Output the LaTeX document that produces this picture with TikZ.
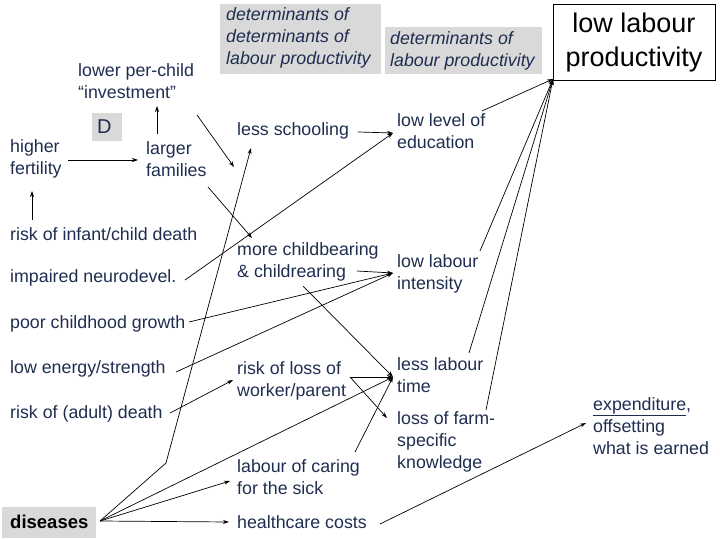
\documentclass[tikz,border=0pt]{standalone}
\usepackage{fontspec}
\setmainfont{Liberation Sans}
\usetikzlibrary{arrows.meta}
\definecolor{txt}{HTML}{1F2D50}
\definecolor{gbox}{HTML}{D9D9D9}
\begin{document}
\begin{tikzpicture}[x=1pt,y=-1pt,
  t/.style={anchor=west,align=left,inner sep=0pt,text=txt,font=\fontsize{17.8}{22}\selectfont},
  it/.style={t,font=\fontsize{17.8}{22}\selectfont\itshape},
  ar/.style={-{Stealth[length=6pt,width=4pt]},line width=0.7pt},
  ln/.style={line width=0.7pt}]
\useasboundingbox (0,0) rectangle (720,540);
\fill[gbox] (220,4) rectangle (381,74);
\fill[gbox] (385,27) rectangle (542,74);
\fill[gbox] (92,113) rectangle (122,141);
\fill[gbox] (2,507) rectangle (96,538);
\node[draw,line width=1pt,minimum width=162,minimum height=76,align=center,font=\fontsize{27}{34}\selectfont] (P) at (634,43) {low labour\\productivity};
\node[it] (dd) at (226,38) {determinants of\\determinants of\\labour productivity};
\node[it] (d) at (390,51) {determinants of\\labour productivity};
\node[t] (inv) at (78,81) {lower per-child\\“investment”};
\node[t,font=\fontsize{20}{22}\selectfont] (D) at (97,127) {D};
\node[t] (hf) at (10,159) {higher\\fertility};
\node[t] (lf) at (146,159) {larger\\families};
\node[t] (rid) at (10,234) {risk of infant/child death};
\node[t] (neu) at (10,278) {impaired neurodevel.};
\node[t] (pcg) at (10,324) {poor childhood growth};
\node[t] (les) at (10,369) {low energy/strength};
\node[t] (rad) at (10,414) {risk of (adult) death};
\node[anchor=west,inner sep=0pt,font=\fontsize{18.5}{22}\selectfont\bfseries] (dis) at (10,522) {diseases};
\node[t] (ls) at (237,131) {less schooling};
\node[t] (mc) at (237,262) {more childbearing\\\& childrearing};
\node[t] (rl) at (237,381) {risk of loss of\\worker/parent};
\node[t] (lc) at (237,477) {labour of caring\\for the sick};
\node[t] (hc) at (237,522) {healthcare costs};
\node[t] (lle) at (397,131) {low level of\\education};
\node[t] (lli) at (397,274) {low labour\\intensity};
\node[t] (llt) at (397,375) {less labour\\time};
\node[t] (lfk) at (397,442) {loss of farm-\\specific\\knowledge};
\node[t] (exp) at (593,426) {\underline{expenditure},\\offsetting\\what is earned};
\coordinate (Pc) at (553,79);
\coordinate (cLLE) at (393,133);
\coordinate (cLLI) at (393,273);
\coordinate (cLLT) at (393,377);
\coordinate (cDis) at (100,521);
\draw[ar] (68,160) -- (138,160);
\draw[ar] (157,134) -- (157,106);
\draw[ar] (32,220) -- (32,191);
\draw[ar] (197,115) -- (234,167);
\draw[ar] (208,187) -- (252,238);
\draw[ar] (358,132) -- (cLLE);
\draw[ar] (185,280) -- (cLLE);
\draw[ar] (482,111) -- (Pc);
\draw[ar] (480,251) -- (Pc);
\draw[ar] (469,353) -- (Pc);
\draw[ar] (486,410) -- (Pc);
\draw[ar] (357,271) -- (cLLI);
\draw[ar] (189,322) -- (cLLI);
\draw[ar] (176,372) -- (cLLI);
\draw[ar] (303,286) -- (cLLT);
\draw[ar] (170,413) -- (233,380);
\draw[ar] (350,377) -- (cLLT);
\draw[ar] (350,377) -- (387,418);
\draw[ar] (355,452) -- (cLLT);
\draw[ar] (cDis) -- (166,463) -- (251,148);
\draw[ar] (cDis) -- (cLLT);
\draw[ar] (cDis) -- (230,481);
\draw[ar] (cDis) -- (229,522);
\draw[ar] (380,524) -- (586,423);
\end{tikzpicture}
\end{document}
